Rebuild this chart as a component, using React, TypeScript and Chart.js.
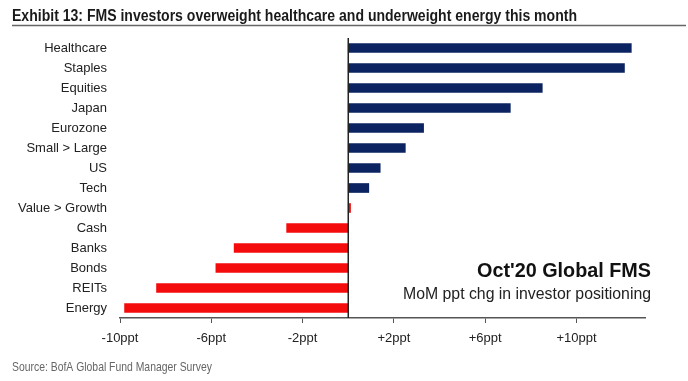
import React, { useEffect, useRef } from "react";
import { Chart, registerables } from "chart.js";

Chart.register(...registerables);

const categories = [
  "Healthcare",
  "Staples",
  "Equities",
  "Japan",
  "Eurozone",
  "Small > Large",
  "US",
  "Tech",
  "Value > Growth",
  "Cash",
  "Banks",
  "Bonds",
  "REITs",
  "Energy",
];
const values = [12.4, 12.1, 8.5, 7.1, 3.3, 2.5, 1.4, 0.9, 0.1, -2.7, -5.0, -5.8, -8.4, -9.8];
const overweightCount = 8;
const xTickValues = [-10, -6, -2, 2, 6, 10];
const xMin = -10;
const xMax = 13;

const titleText = "Exhibit 13: FMS investors overweight healthcare and underweight energy this month";
const sourceText = "Source: BofA Global Fund Manager Survey";
const noteTitle = "Oct'20 Global FMS";
const noteSub = "MoM ppt chg in investor positioning";

const NAVY = "#0c2361";
const RED = "#f40c0c";

function drawFit(
  ctx: CanvasRenderingContext2D,
  text: string,
  x: number,
  y: number,
  align: CanvasTextAlign,
  targetW: number,
  font: string,
  color: string
) {
  ctx.save();
  ctx.font = font;
  ctx.fillStyle = color;
  ctx.textAlign = align;
  ctx.textBaseline = "alphabetic";
  const w = ctx.measureText(text).width;
  const sx = w > 0 ? targetW / w : 1;
  ctx.translate(x, y);
  ctx.scale(sx, 1);
  ctx.fillText(text, 0, 0);
  ctx.restore();
}

const decorPlugin = {
  id: "decor",
  afterDatasetsDraw(chart: any) {
    const ctx = chart.ctx as CanvasRenderingContext2D;
    const { top, bottom } = chart.chartArea;
    const x0 = chart.scales.x.getPixelForValue(0);
    ctx.save();
    ctx.strokeStyle = "#222";
    ctx.lineWidth = 1.5;
    ctx.beginPath();
    ctx.moveTo(x0, top);
    ctx.lineTo(x0, bottom);
    ctx.stroke();
    ctx.restore();
  },
  afterDraw(chart: any) {
    const ctx = chart.ctx as CanvasRenderingContext2D;
    // title
    drawFit(ctx, titleText, 12, 21, "left", 565,
      'bold 16px "Liberation Sans Narrow", "Arial Narrow", "Liberation Sans", sans-serif', "#1a1a1a");
    ctx.save();
    ctx.strokeStyle = "#666";
    ctx.lineWidth = 1.5;
    ctx.beginPath();
    ctx.moveTo(12, 25.5);
    ctx.lineTo(686, 25.5);
    ctx.stroke();
    ctx.restore();
    // source
    drawFit(ctx, sourceText, 12, 371, "left", 200,
      '13px "Liberation Sans Narrow", "Arial Narrow", "Liberation Sans", sans-serif', "#666");
    // annotation
    drawFit(ctx, noteTitle, 651, 277, "right", 174,
      'bold 20px "Liberation Sans", Arial, sans-serif', "#111");
    drawFit(ctx, noteSub, 651, 299, "right", 248,
      '16px "Liberation Sans", Arial, sans-serif', "#222");
  },
};

export default function App() {
  const ref = useRef<HTMLCanvasElement | null>(null);

  useEffect(() => {
    document.body.style.margin = "0";
    const canvas = ref.current;
    if (!canvas) return;
    const colors = values.map((_, i) => (i < overweightCount ? NAVY : RED));
    const chart = new Chart(canvas, {
      type: "bar",
      data: {
        labels: categories,
        datasets: [
          {
            data: values,
            backgroundColor: colors,
            borderWidth: 0,
            barThickness: 9,
          },
        ],
      },
      plugins: [decorPlugin],
      options: {
        indexAxis: "y",
        responsive: false,
        animation: false,
        maintainAspectRatio: false,
        layout: { padding: { top: 38, right: 43, bottom: 33, left: 0 } },
        plugins: {
          legend: { display: false },
          tooltip: { enabled: false },
          title: { display: false },
        },
        scales: {
          y: {
            type: "category",
            grid: { display: false, drawTicks: false },
            border: { display: false },
            ticks: {
              color: "#222",
              padding: 13,
              font: { family: '"Liberation Sans", Arial, sans-serif', size: 13 },
            },
            afterFit(scale: any) {
              scale.width = 120;
            },
          },
          x: {
            type: "linear",
            min: xMin,
            max: xMax,
            afterBuildTicks(axis: any) {
              axis.ticks = xTickValues.map((v) => ({ value: v }));
            },
            grid: {
              display: true,
              drawOnChartArea: false,
              drawTicks: true,
              tickLength: 5,
              color: "#555",
              lineWidth: 1,
            },
            border: { display: true, color: "#555", width: 1.5 },
            ticks: {
              color: "#222",
              padding: 8,
              maxRotation: 0,
              autoSkip: false,
              font: { family: '"Liberation Sans", Arial, sans-serif', size: 13 },
              callback: (v: any) => (Number(v) > 0 ? "+" : "") + v + "ppt",
            },
            afterFit(scale: any) {
              scale.height = 30;
            },
          },
        },
      } as any,
    });
    return () => chart.destroy();
  }, []);

  return (
    <div style={{ position: "relative", width: 688, height: 381, background: "#fff" }}>
      <canvas ref={ref} width={688} height={381} style={{ display: "block" }} />
    </div>
  );
}
